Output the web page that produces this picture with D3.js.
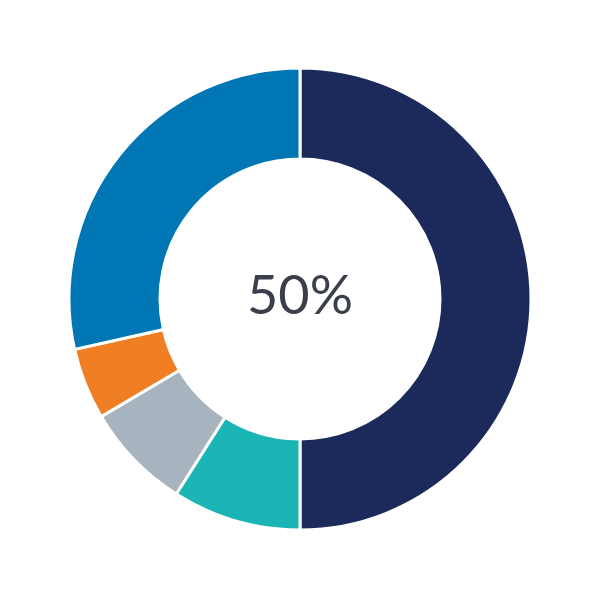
<!DOCTYPE html>
<html>
<head>
<meta charset="utf-8">
<script src="https://cdnjs.cloudflare.com/ajax/libs/d3/7.8.5/d3.min.js"></script>
<style>
    body { margin: 0; background: #fff; }
    #vis text { font-family: Lato, sans-serif; }
</style>
</head>
<body>
<div id="vis"></div>
<script>
// Slice data, clockwise from 12 o'clock
var categories = ['A', 'B', 'C', 'D', 'E'];
var values = [50, 9, 7.5, 5, 28.5];
var colors = ['#1b2a5a', '#1cb5b6', '#a8b3c0', '#f07e22', '#0076b4'];
var centerLabel = '50%';

var width = 600;
var height = 599;
var outerRadius = 231;
var innerRadius = 140;

var svg = d3.select('#vis')
    .append('svg')
    .attr('width', width)
    .attr('height', height);

var g = svg.append('g')
    .attr('transform', 'translate(' + 300 + ',' + 299 + ')');

var data = categories.map(function(c, i) {
    return { name: c, value: values[i], color: colors[i] };
});

var pie = d3.pie()
    .sort(null)
    .value(function(d) { return d.value; });

var arc = d3.arc()
    .innerRadius(innerRadius)
    .outerRadius(outerRadius);

g.selectAll('path')
    .data(pie(data))
    .enter().append('path')
    .attr('d', arc)
    .attr('fill', function(d) { return d.data.color; })
    .attr('stroke', '#fff')
    .attr('stroke-width', 3);

// Center label
g.append('text')
    .attr('text-anchor', 'middle')
    .attr('y', 15)
    .attr('font-size', 54)
    .attr('fill', '#3a3f4b')
    .text(centerLabel);
</script>
</body>
</html>
